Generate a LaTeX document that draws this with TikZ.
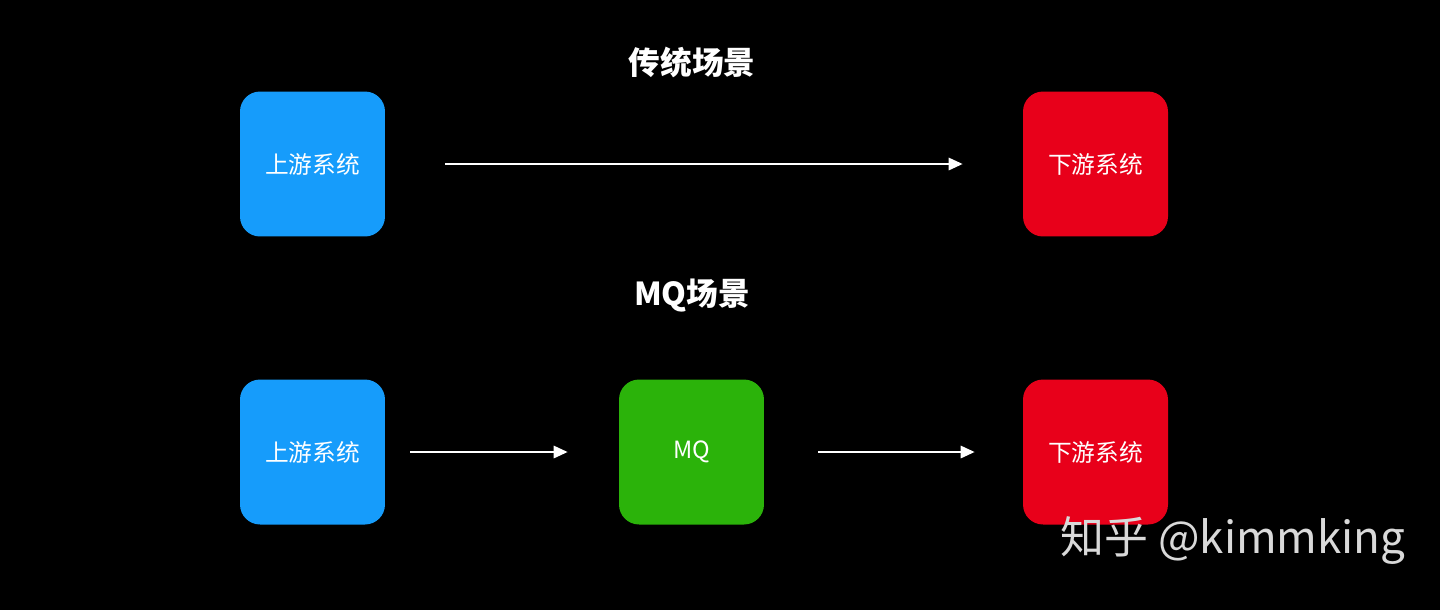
\documentclass[tikz,border=0pt]{standalone}
\usepackage{fontspec}
\setmainfont{Noto Sans CJK SC}
\newfontfamily\cjkb{Noto Sans CJK SC}[BoldFont={Noto Sans CJK SC Bold}]
\usetikzlibrary{arrows.meta}
\definecolor{cblue}{HTML}{169CFB}
\definecolor{cred}{HTML}{E8001A}
\definecolor{cgreen}{HTML}{2BB30A}
\begin{document}
\begin{tikzpicture}[x=0.02cm,y=-0.02cm,
  box/.style={rounded corners=0.4cm,minimum width=2.9cm,minimum height=2.9cm,text=white,font=\fontsize{13.5}{15}\selectfont,inner sep=0pt},
  title/.style={text=white,font=\fontsize{18}{20}\selectfont\bfseries},
  arr/.style={white,line width=1.3pt,-{Triangle[length=8pt,width=7pt]}}]
\fill[black] (0,0) rectangle (1440,610);
\useasboundingbox (0,0) rectangle (1440,610);
\node[title] (t1) at (692,62) {传统场景};
\node[title] (t2) at (692,296) {MQ场景};
\node[box,fill=cblue] (u1) at (312.5,164) {上游系统};
\node[box,fill=cred] (d1) at (1095.5,164) {下游系统};
\node[box,fill=cblue] (u2) at (312.5,452) {上游系统};
\node[box,fill=cgreen] (mq) at (691.5,452) {MQ};
\node[box,fill=cred] (d2) at (1095.5,452) {下游系统};
\draw[arr] ([xshift=1.2cm]u1.east) -- ([xshift=-1.2cm]d1.west);
\draw[arr] ([xshift=0.5cm]u2.east) -- ([xshift=-1.02cm]mq.west);
\draw[arr] ([xshift=1.08cm]mq.east) -- ([xshift=-0.96cm]d2.west);
\node[text=white!85!black,font=\fontsize{25}{28}\selectfont] (wm) at (1233,541) {知乎 @kimmking};
\end{tikzpicture}
\end{document}
